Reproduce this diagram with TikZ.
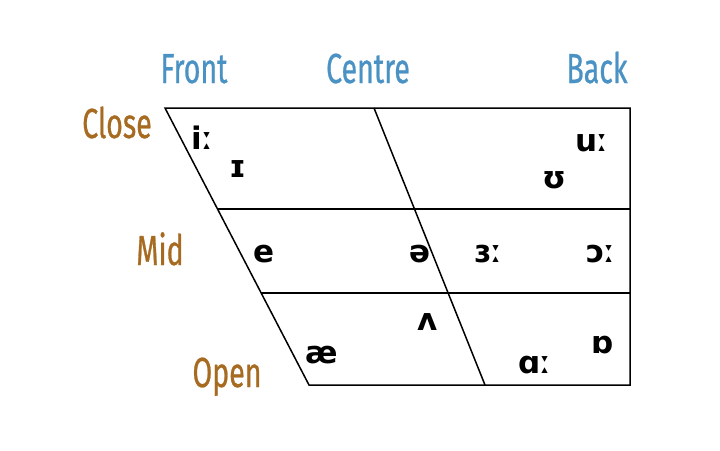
\documentclass[tikz,border=0pt]{standalone}
\usepackage{fontspec}
\newfontfamily\labelfont[FakeStretch=0.68,FakeBold=0.6]{Fira Sans}
\newfontfamily\ipafont{DejaVu Sans}
\definecolor{colblue}{RGB}{74,146,196}
\definecolor{rowbrown}{RGB}{166,106,32}
\tikzset{
  col/.style={anchor=base, inner sep=0pt, text=colblue, font=\labelfont\fontsize{42}{42}\selectfont},
  row/.style={anchor=base, inner sep=0pt, text=rowbrown, font=\labelfont\fontsize{42}{42}\selectfont},
  vowel/.style={anchor=base, inner sep=0pt, font=\ipafont\bfseries\fontsize{31}{31}\selectfont},
  chart/.style={line width=1.5pt, line join=miter}
}
\begin{document}
\begin{tikzpicture}[x=1pt,y=-1pt]
      \useasboundingbox (0,0) rectangle (720,450);
      \coordinate (tl) at (165,108);
      \coordinate (ct) at (374,108);
      \coordinate (tr) at (630,108);
      \coordinate (ml) at (217.5,209);
      \coordinate (mc) at (414.5,209);
      \coordinate (mr) at (630,209);
      \coordinate (ol) at (261.2,293);
      \coordinate (oc) at (448,293);
      \coordinate (or) at (630,293);
      \coordinate (bl) at (309,385);
      \coordinate (cb) at (485,385);
      \coordinate (br) at (630,385);
      \draw
        (194,83) node[col] (front){Front}
        (368,83) node[col] (centre){Centre}
        (597,83) node[col] (back){Back}
        (117,138) node[row] (close){Close}
        (160,265) node[row] (mid){Mid}
        (227,387) node[row] (open){Open};
      \draw
        (202,149) node[vowel] (ii){iː}
        (238,177) node[vowel] (ih){ɪ}
        (592,151) node[vowel] (uu){uː}
        (554,188) node[vowel] (uh){ʊ}
        (264,262) node[vowel] (e){e}
        (420,262) node[vowel] (schwa){ə}
        (488,262) node[vowel] (er){ɜː}
        (601,262) node[vowel] (aw){ɔː}
        (428,330) node[vowel] (uhh){ʌ}
        (322,363) node[vowel] (ae){æ}
        (603,353) node[vowel] (o){ɒ}
        (535,373) node[vowel] (aa){ɑː};
      \begin{scope}[chart]
        \draw (bl) -- (tl) -- (tr) -- (br) -- cycle;
        \draw (ct) to (cb);
        \draw (ml) to (mr);
        \draw (ol) to (or);
      \end{scope}
    \end{tikzpicture}
\end{document}
